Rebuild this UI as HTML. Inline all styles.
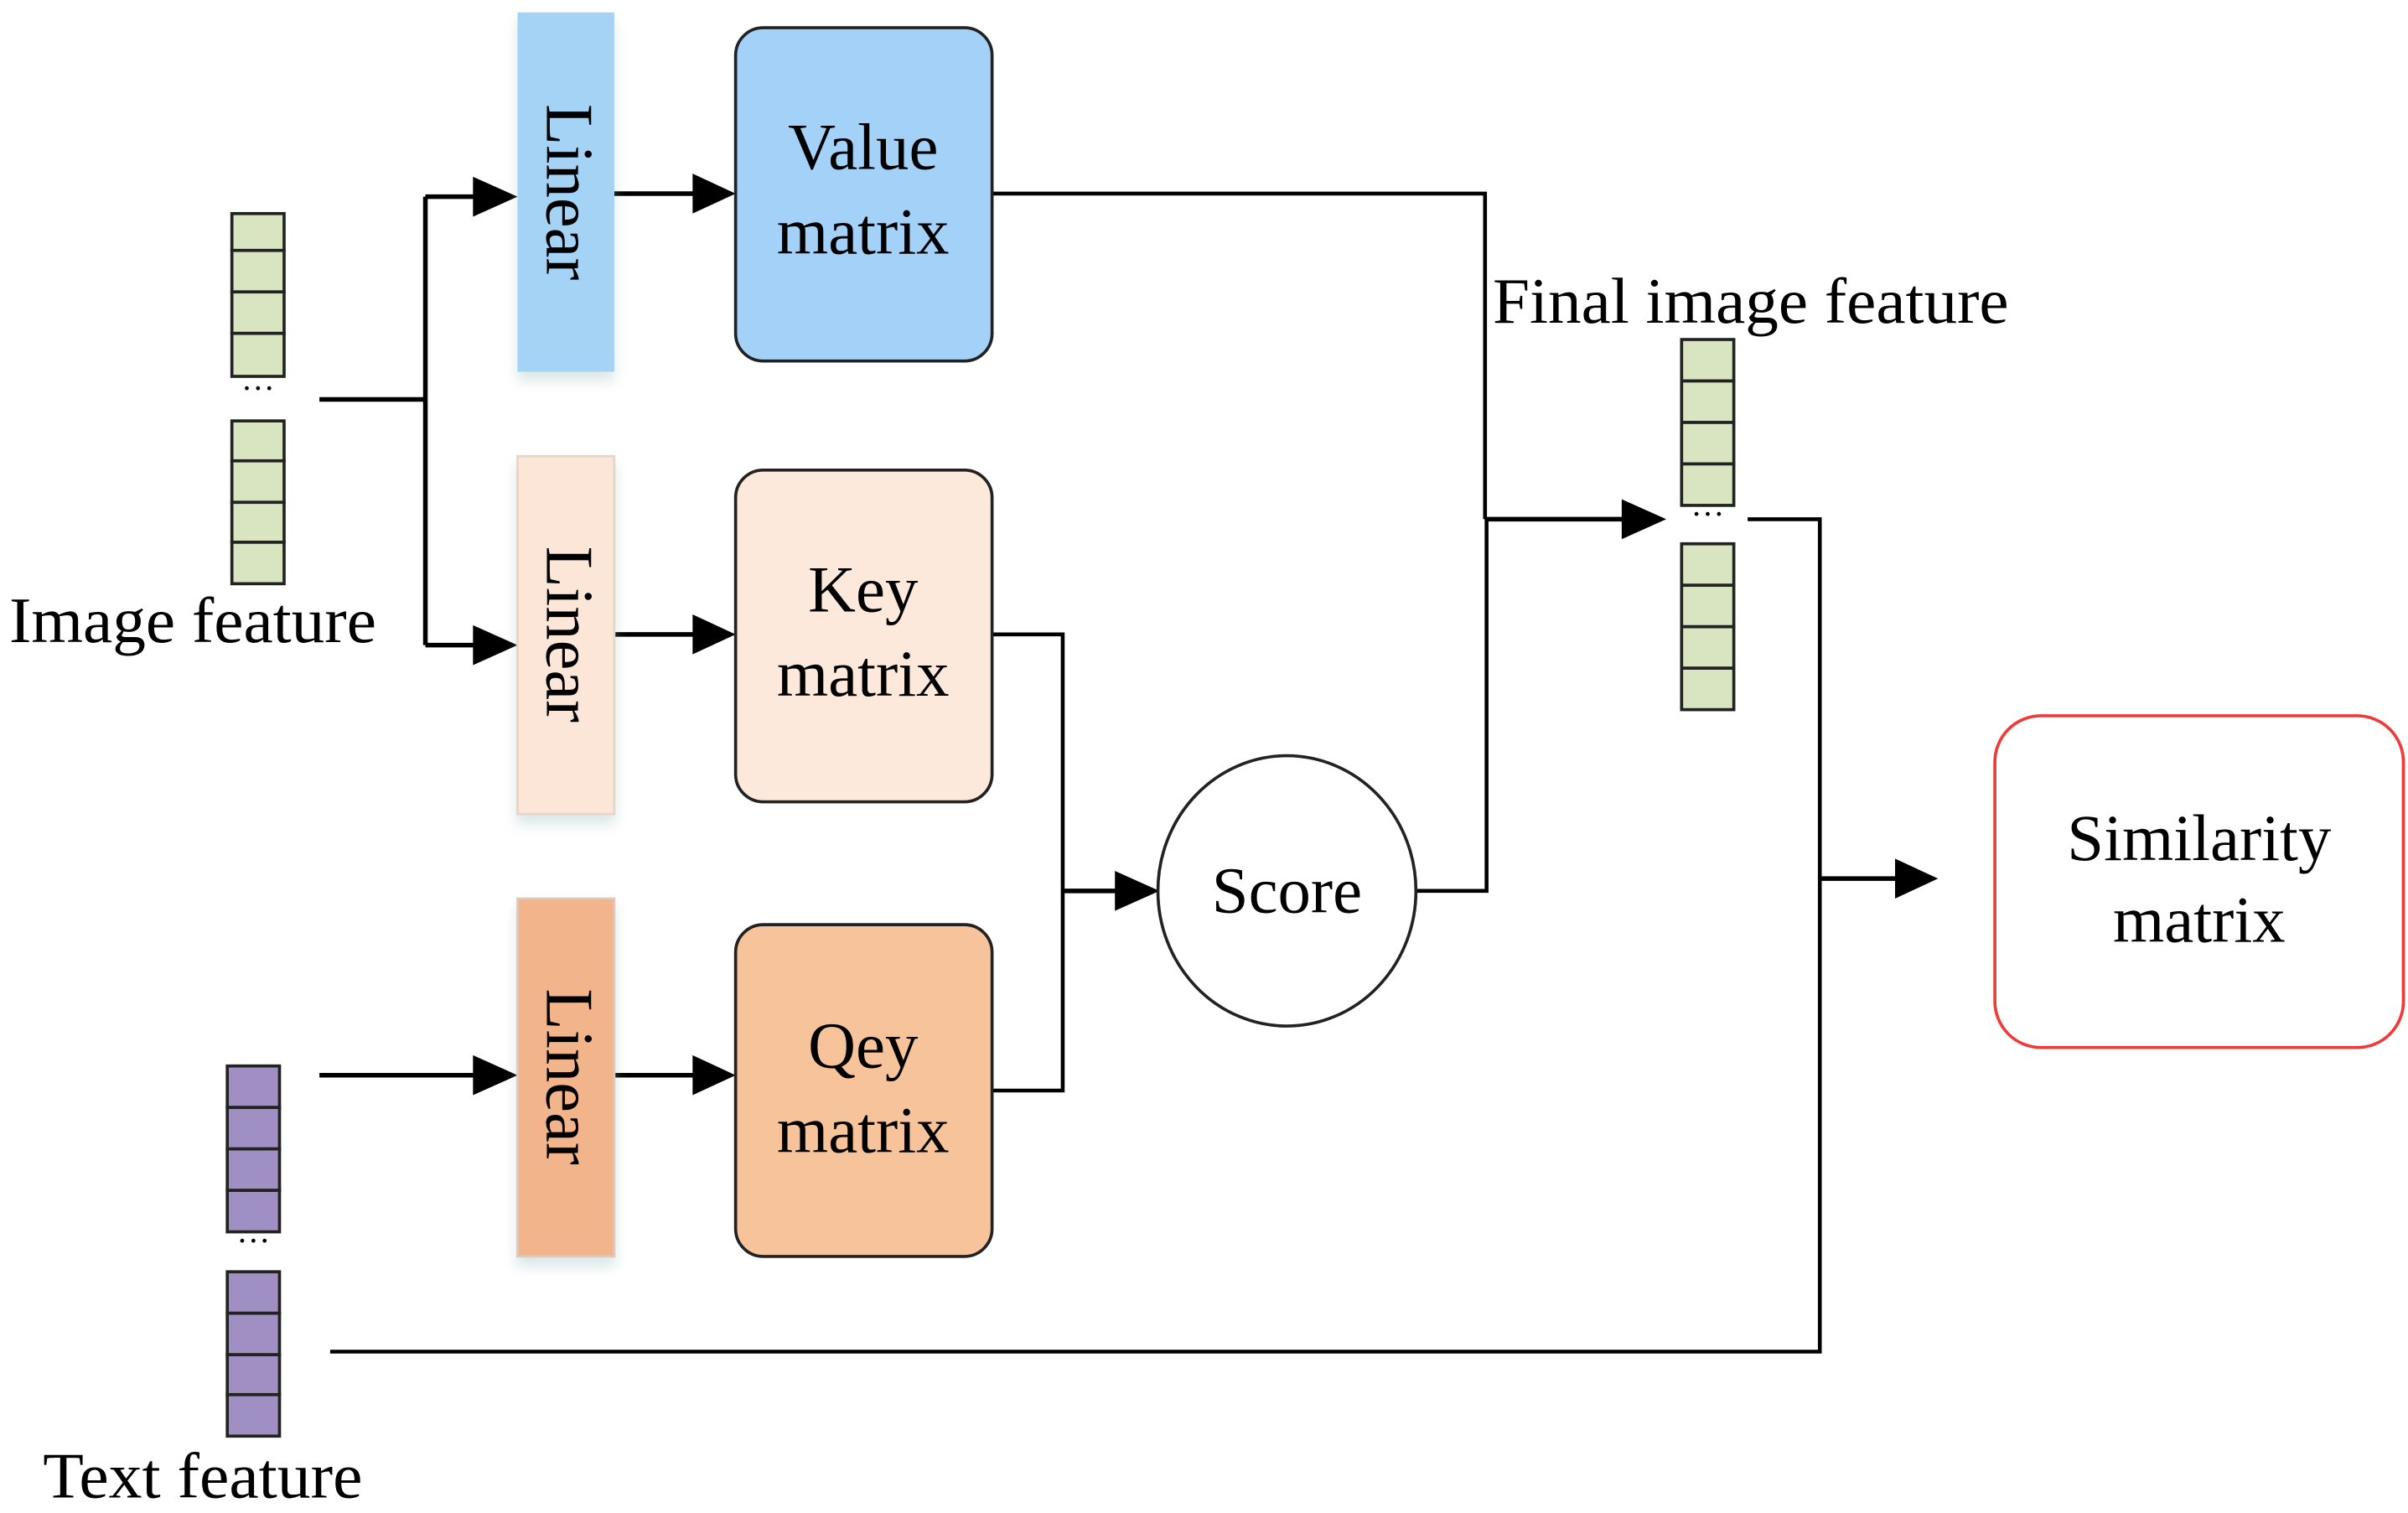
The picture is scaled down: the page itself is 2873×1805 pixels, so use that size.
<!DOCTYPE html>
<html><head><meta charset="utf-8"><style>html,body{margin:0;padding:0;background:#fff}svg{display:block}</style></head>
<body>
<svg width="2873" height="1805" viewBox="0 0 1568 985" xmlns="http://www.w3.org/2000/svg" font-family="'Liberation Serif', serif">
<defs>
<filter id="sh" x="-20%" y="-10%" width="140%" height="130%"><feDropShadow dx="0" dy="6" stdDeviation="4" flood-color="#9bb" flood-opacity="0.35"/></filter>
</defs>
<g stroke="#000" stroke-width="3" fill="none">
<polyline points="208,260 277,260"/>
<polyline points="277,128 277,420"/>
</g>
<g fill="#000">
<path d="M277,128 L312,128" stroke="#000" stroke-width="3"/><path d="M308,115 L337,128 L308,141 z"/>
<path d="M277,420 L312,420" stroke="#000" stroke-width="3"/><path d="M308,407 L337,420 L308,433 z"/>
<path d="M400,126 L455,126" stroke="#000" stroke-width="3"/><path d="M451,113 L479,126 L451,139 z"/>
<path d="M400,413 L455,413" stroke="#000" stroke-width="3"/><path d="M451,400 L479,413 L451,426 z"/>
<path d="M400,700 L455,700" stroke="#000" stroke-width="3"/><path d="M451,687 L479,700 L451,713 z"/>
<path d="M208,700 L312,700" stroke="#000" stroke-width="3"/><path d="M308,687 L337,700 L308,713 z"/>
<path d="M692,580 L730,580" stroke="#000" stroke-width="3"/><path d="M726,567 L755,580 L726,593 z"/>
<path d="M967,338 L1060,338" stroke="#000" stroke-width="3"/><path d="M1056,325 L1085,338 L1056,351 z"/>
<path d="M1185,572 L1238,572" stroke="#000" stroke-width="3"/><path d="M1234,559 L1262,572 L1234,585 z"/>
</g>
<g stroke="#000" stroke-width="2.5" fill="none">
<polyline points="646,126 967,126 967,338"/>
<polyline points="646,413 692,413 692,710 646,710"/>
<polyline points="922,580 968,580 968,338"/>
<polyline points="1138,338 1185,338 1185,880 215,880"/>
</g>
<rect x="337" y="8" width="63" height="234" fill="#a5d3f5" filter="url(#sh)"/>
<rect x="337" y="297" width="63" height="233" fill="#fbe6d7" stroke="#e6d6c8" stroke-width="1.5" filter="url(#sh)"/>
<rect x="337" y="585" width="63" height="233" fill="#f2b48a" stroke="#e0c9b8" stroke-width="1.5" filter="url(#sh)"/>
<g font-size="44" fill="#000" text-anchor="middle">
<text transform="translate(356,125) rotate(90)">Linear</text>
<text transform="translate(356,413) rotate(90)">Linear</text>
<text transform="translate(356,701) rotate(90)">Linear</text>
</g>
<rect x="479" y="18" width="167" height="217" rx="18" fill="#a3d1f7" stroke="#222" stroke-width="2"/>
<rect x="479" y="306" width="167" height="216" rx="18" fill="#fce9db" stroke="#222" stroke-width="2"/>
<rect x="479" y="602" width="167" height="216" rx="18" fill="#f7c39b" stroke="#222" stroke-width="2"/>
<g font-size="43" fill="#000" text-anchor="middle">
<text x="562" y="110">Value</text><text x="562" y="165">matrix</text>
<text x="562" y="398">Key</text><text x="562" y="453">matrix</text>
<text x="562" y="695">Qey</text><text x="562" y="750">matrix</text>
<text x="838" y="594">Score</text>
<text x="1432" y="560">Similarity</text><text x="1432" y="613">matrix</text>
</g>
<ellipse cx="838" cy="580" rx="84" ry="88" fill="none" stroke="#222" stroke-width="2"/>
<rect x="1299" y="466" width="266" height="216" rx="30" fill="none" stroke="#f03a3a" stroke-width="2"/>
<g stroke="#222" stroke-width="2" fill="#d9e4c0">
<rect x="151" y="139" width="34" height="24"/><rect x="151" y="163" width="34" height="27"/><rect x="151" y="190" width="34" height="27"/><rect x="151" y="217" width="34" height="28"/>
<rect x="151" y="274" width="34" height="26"/><rect x="151" y="300" width="34" height="27"/><rect x="151" y="327" width="34" height="26"/><rect x="151" y="353" width="34" height="27"/>
<rect x="1095" y="221" width="34" height="27"/><rect x="1095" y="248" width="34" height="27"/><rect x="1095" y="275" width="34" height="27"/><rect x="1095" y="302" width="34" height="27"/>
<rect x="1095" y="354" width="34" height="27"/><rect x="1095" y="381" width="34" height="27"/><rect x="1095" y="408" width="34" height="27"/><rect x="1095" y="435" width="34" height="27"/>
</g>
<g stroke="#222" stroke-width="2" fill="#9f8fc2">
<rect x="148" y="694" width="34" height="27"/><rect x="148" y="721" width="34" height="27"/><rect x="148" y="748" width="34" height="27"/><rect x="148" y="775" width="34" height="27"/>
<rect x="148" y="828" width="34" height="27"/><rect x="148" y="855" width="34" height="27"/><rect x="148" y="882" width="34" height="26"/><rect x="148" y="908" width="34" height="27"/>
</g>
<g font-size="22" fill="#000" text-anchor="middle">
<text x="168" y="260">···</text><text x="1112" y="342">···</text><text x="165" y="815">···</text>
</g>
<g font-size="42" fill="#000">
<text x="6" y="418" textLength="239" lengthAdjust="spacingAndGlyphs">Image feature</text>
<text x="28" y="975" textLength="208" lengthAdjust="spacingAndGlyphs">Text feature</text>
<text x="972" y="210" textLength="336" lengthAdjust="spacingAndGlyphs">Final image feature</text>
</g>
</svg>
</body></html>
